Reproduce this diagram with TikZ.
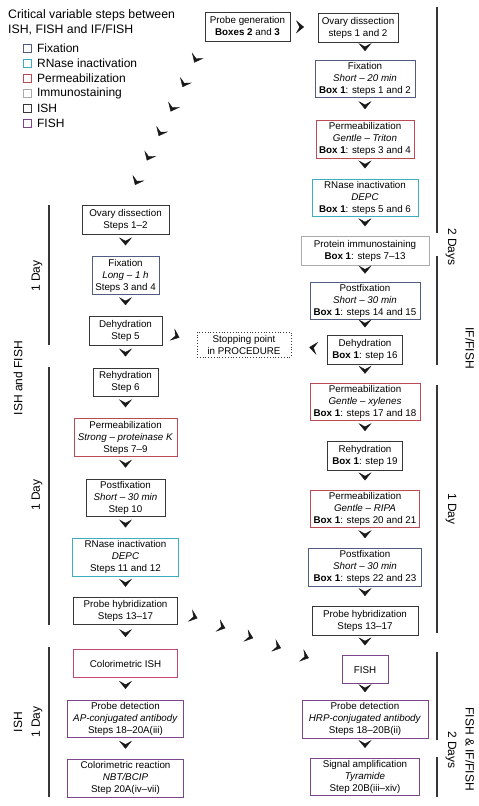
\documentclass[tikz,border=0pt]{standalone}
\usepackage{fontspec}
\setmainfont{Liberation Sans}
\usepackage{tikz}
\usetikzlibrary{positioning, arrows.meta, decorations.markings}
\usepackage{xcolor}

\definecolor{boxc}{RGB}{55,55,55}
\definecolor{fixc}{RGB}{80,92,128}
\definecolor{rnac}{RGB}{60,175,190}
\definecolor{permc}{RGB}{185,75,85}
\definecolor{immc}{RGB}{170,170,170}
\definecolor{ishc}{RGB}{195,70,115}
\definecolor{fishc}{RGB}{125,70,140}
\definecolor{tipc}{RGB}{25,25,25}

\begin{document}
\begin{tikzpicture}[x=1pt, y=1pt,
        node distance = 20pt,
        box/.style  = {draw=boxc, line width=0.8pt, align=center, fill=white, font=\fontsize{9.8}{12}\selectfont, inner xsep=3pt, inner ysep=2.2pt},
        two/.style  = {box, minimum height=29pt},
        bar/.style  = {line width=1.7pt, draw=boxc},
        lab/.style  = {font=\fontsize{12}{14}\selectfont, inner sep=0pt},
        legsq/.style = {draw=#1, line width=0.9pt, minimum size=8pt, inner sep=0pt},
        legtxt/.style = {font=\fontsize{12}{14}\selectfont, inner sep=0pt, anchor=west},
        chev/.style = {postaction={decorate}, decoration={markings,
            mark=at position 0.5 with {\arrow[tipc]{Stealth[length=8pt, width=13pt, inset=3.5pt]}}}},
        chevs/.style = {postaction={decorate}, decoration={markings,
            mark=between positions #1 with {\arrow[tipc]{Stealth[length=8pt, width=13pt, inset=3.5pt]}}}},
    ]
    \useasboundingbox (0,0) rectangle (479,-806);

    % legend
    \node[anchor=north west, align=left, inner sep=0pt, font=\fontsize{12.3}{15}\selectfont] (title) at (8,-9)
        {Critical variable steps between\\ISH, FISH and IF/FISH};
    \foreach \col/\txt [count=\i] in {fixc/Fixation, rnac/RNase inactivation, permc/Permeabilization,
                                      immc/Immunostaining, boxc/ISH, fishc/FISH} {
        \node[legsq=\col] (sq\i) at (27.5,-48.5-15*\i+15) {};
        \node[legtxt, right=5pt of sq\i] (lg\i) {\txt};
    }

    % IF/FISH column
    \node[two, minimum width=85pt] (probegen) at (247.5,-26.5) {Probe generation\\\textbf{Boxes 2} and \textbf{3}};
    \node[two, minimum width=80pt] (ovr) at (358,-27.5) {Ovary dissection\\steps 1 and 2};
    \node[box, draw=fixc, minimum width=100pt] (fixr) at (365,-79) {Fixation\\\textit{Short -- 20 min}\\\textbf{Box 1}: steps 1 and 2};
    \node[box, draw=permc, minimum width=97pt, below=22pt of fixr] (permr) {Permeabilization\\\textit{Gentle -- Triton}\\\textbf{Box 1}: steps 3 and 4};
    \node[box, draw=rnac, minimum width=106pt, below=20pt of permr] (rnaser) {RNase inactivation\\\textit{DEPC}\\\textbf{Box 1}: steps 5 and 6};
    \node[two, draw=immc, minimum width=128pt, below=19pt of rnaser] (immr) {Protein immunostaining\\\textbf{Box 1}: steps 7--13};
    \node[box, draw=fixc, minimum width=110pt, below=16pt of immr] (pfixr) {Postfixation\\\textit{Short -- 30 min}\\\textbf{Box 1}: steps 14 and 15};
    \node[two, minimum width=75pt, below=15pt of pfixr] (dehydr) {Dehydration\\\textbf{Box 1}: step 16};
    \node[box, draw=permc, minimum width=110pt, below=18pt of dehydr] (permxr) {Permeabilization\\\textit{Gentle -- xylenes}\\\textbf{Box 1}: steps 17 and 18};
    \node[two, minimum width=75pt, below=20pt of permxr] (rehydr) {Rehydration\\\textbf{Box 1}: step 19};
    \node[box, draw=permc, minimum width=109pt, below=19pt of rehydr] (ripar) {Permeabilization\\\textit{Gentle -- RIPA}\\\textbf{Box 1}: steps 20 and 21};
    \node[box, draw=fixc, minimum width=113pt, below=20pt of ripar] (pfixrb) {Postfixation\\\textit{Short -- 30 min}\\\textbf{Box 1}: steps 22 and 23};
    \node[two, minimum width=106pt, below=19pt of pfixrb] (hybr) {Probe hybridization\\Steps 13--17};
    \node[box, draw=fishc, minimum width=46pt, minimum height=28pt, below=20pt of hybr] (fish) {FISH};
    \node[box, draw=fishc, minimum width=126pt, below=16pt of fish] (detr) {Probe detection\\\textit{HRP-conjugated antibody}\\Steps 18--20B(ii)};
    \node[box, draw=fishc, minimum width=109pt, below=19pt of detr] (ampr) {Signal amplification\\\textit{Tyramide}\\Step 20B(iii--xiv)};

    % ISH and FISH column
    \node[two, minimum width=87pt] (ovl) at (125.5,-219.5) {Ovary dissection\\Steps 1--2};
    \node[box, draw=fixc, minimum width=67pt, below=22pt of ovl] (fixl) {Fixation\\\textit{Long -- 1 h}\\Steps 3 and 4};
    \node[two, minimum width=73pt, below=21pt of fixl] (dehydl) {Dehydration\\Step 5};
    \node[two, minimum width=65pt, minimum height=28pt, below=22pt of dehydl] (rehydl) {Rehydration\\Step 6};
    \node[box, draw=permc, minimum width=103pt, below=22pt of rehydl] (perml) {Permeabilization\\\textit{Strong -- proteinase K}\\Steps 7--9};
    \node[box, minimum width=79pt, below=22pt of perml] (pfixl) {Postfixation\\\textit{Short -- 30 min}\\Step 10};
    \node[box, draw=rnac, minimum width=106pt, below=21pt of pfixl] (rnasel) {RNase inactivation\\\textit{DEPC}\\Steps 11 and 12};
    \node[two, minimum width=104pt, minimum height=27pt, below=21pt of rnasel] (hybl) {Probe hybridization\\Steps 13--17};
    \node[box, draw=ishc, minimum width=104pt, minimum height=28pt, below=24pt of hybl] (cish) {Colorimetric ISH};
    \node[box, draw=fishc, minimum width=116pt, below=22pt of cish] (detl) {Probe detection\\\textit{AP-conjugated antibody}\\Steps 18--20A(iii)};
    \node[box, draw=fishc, minimum width=116pt, below=21pt of detl] (reacl) {Colorimetric reaction\\\textit{NBT/BCIP}\\Step 20A(iv--vii)};

    \node[box, dotted, line width=0.9pt, minimum width=94pt, minimum height=25pt] (stop) at (244,-344.5) {Stopping point\\in PROCEDURE};

    % chevrons
    \path[chev] (probegen) -- (ovr);
    \path[chev] (fixr.north |- ovr.south) -- (fixr.north);
    \foreach \a/\b in {fixr/permr, permr/rnaser, rnaser/immr, immr/pfixr, pfixr/dehydr, dehydr/permxr,
                       permxr/rehydr, rehydr/ripar, ripar/pfixrb, pfixrb/hybr, hybr/fish, fish/detr, detr/ampr,
                       ovl/fixl, fixl/dehydl, dehydl/rehydl, rehydl/perml, perml/pfixl, pfixl/rnasel,
                       rnasel/hybl, hybl/cish, cish/detl, detl/reacl}
        \path[chev] (\a) -- (\b);
    \path[chev] (dehydl.east) -- (stop.west);
    \path[chev] (dehydr.west) -- (stop.east);
    \path[chevs={0.13 and 0.9 step 0.15}] (probegen.south west) -- (ovl.north);
    \path[chevs={0.12 and 0.85 step 0.17}] (hybl.east) -- (fish.west);

    % day bars
    \coordinate (r1) at (437,-7);    \coordinate (r2) at (437,-233);
    \coordinate (r3) at (437,-256);  \coordinate (r4) at (437,-365);
    \coordinate (r5) at (437,-385);  \coordinate (r6) at (437,-633);
    \coordinate (r7) at (437,-652);  \coordinate (r8) at (437,-740);
    \coordinate (r9) at (437,-757);  \coordinate (r10) at (437,-797);
    \draw[bar] (r1) -- (r2);  \draw[bar] (r3) -- (r4);  \draw[bar] (r5) -- (r6);
    \draw[bar] (r7) -- (r8);  \draw[bar] (r9) -- (r10);
    \coordinate (l1) at (49,-205);  \coordinate (l2) at (49,-345);
    \coordinate (l3) at (49,-367);  \coordinate (l4) at (49,-625);
    \coordinate (l5) at (49,-647);  \coordinate (l6) at (49,-797);
    \draw[bar] (l1) -- (l2);  \draw[bar] (l3) -- (l4);  \draw[bar] (l5) -- (l6);

    % day labels
    \node[lab, rotate=-90] (dr1) at (451,-247) {2 Days};
    \node[lab, rotate=-90] (ifr) at (470,-348) {IF/FISH};
    \node[lab, rotate=-90] (dr2) at (451,-509) {1 Day};
    \node[lab, rotate=-90] (dr3) at (451,-750) {2 Days};
    \node[lab, rotate=-90] (fsr) at (470,-749) {FISH \& IF/FISH};
    \node[lab, rotate=90] (dl1) at (37,-276) {1 Day};
    \node[lab, rotate=90] (ishf) at (18,-378) {ISH and FISH};
    \node[lab, rotate=90] (dl2) at (37,-495) {1 Day};
    \node[lab, rotate=90] (dl3) at (37,-722) {1 Day};
    \node[lab, rotate=90] (ishl) at (18,-722) {ISH};
\end{tikzpicture}
\end{document}
